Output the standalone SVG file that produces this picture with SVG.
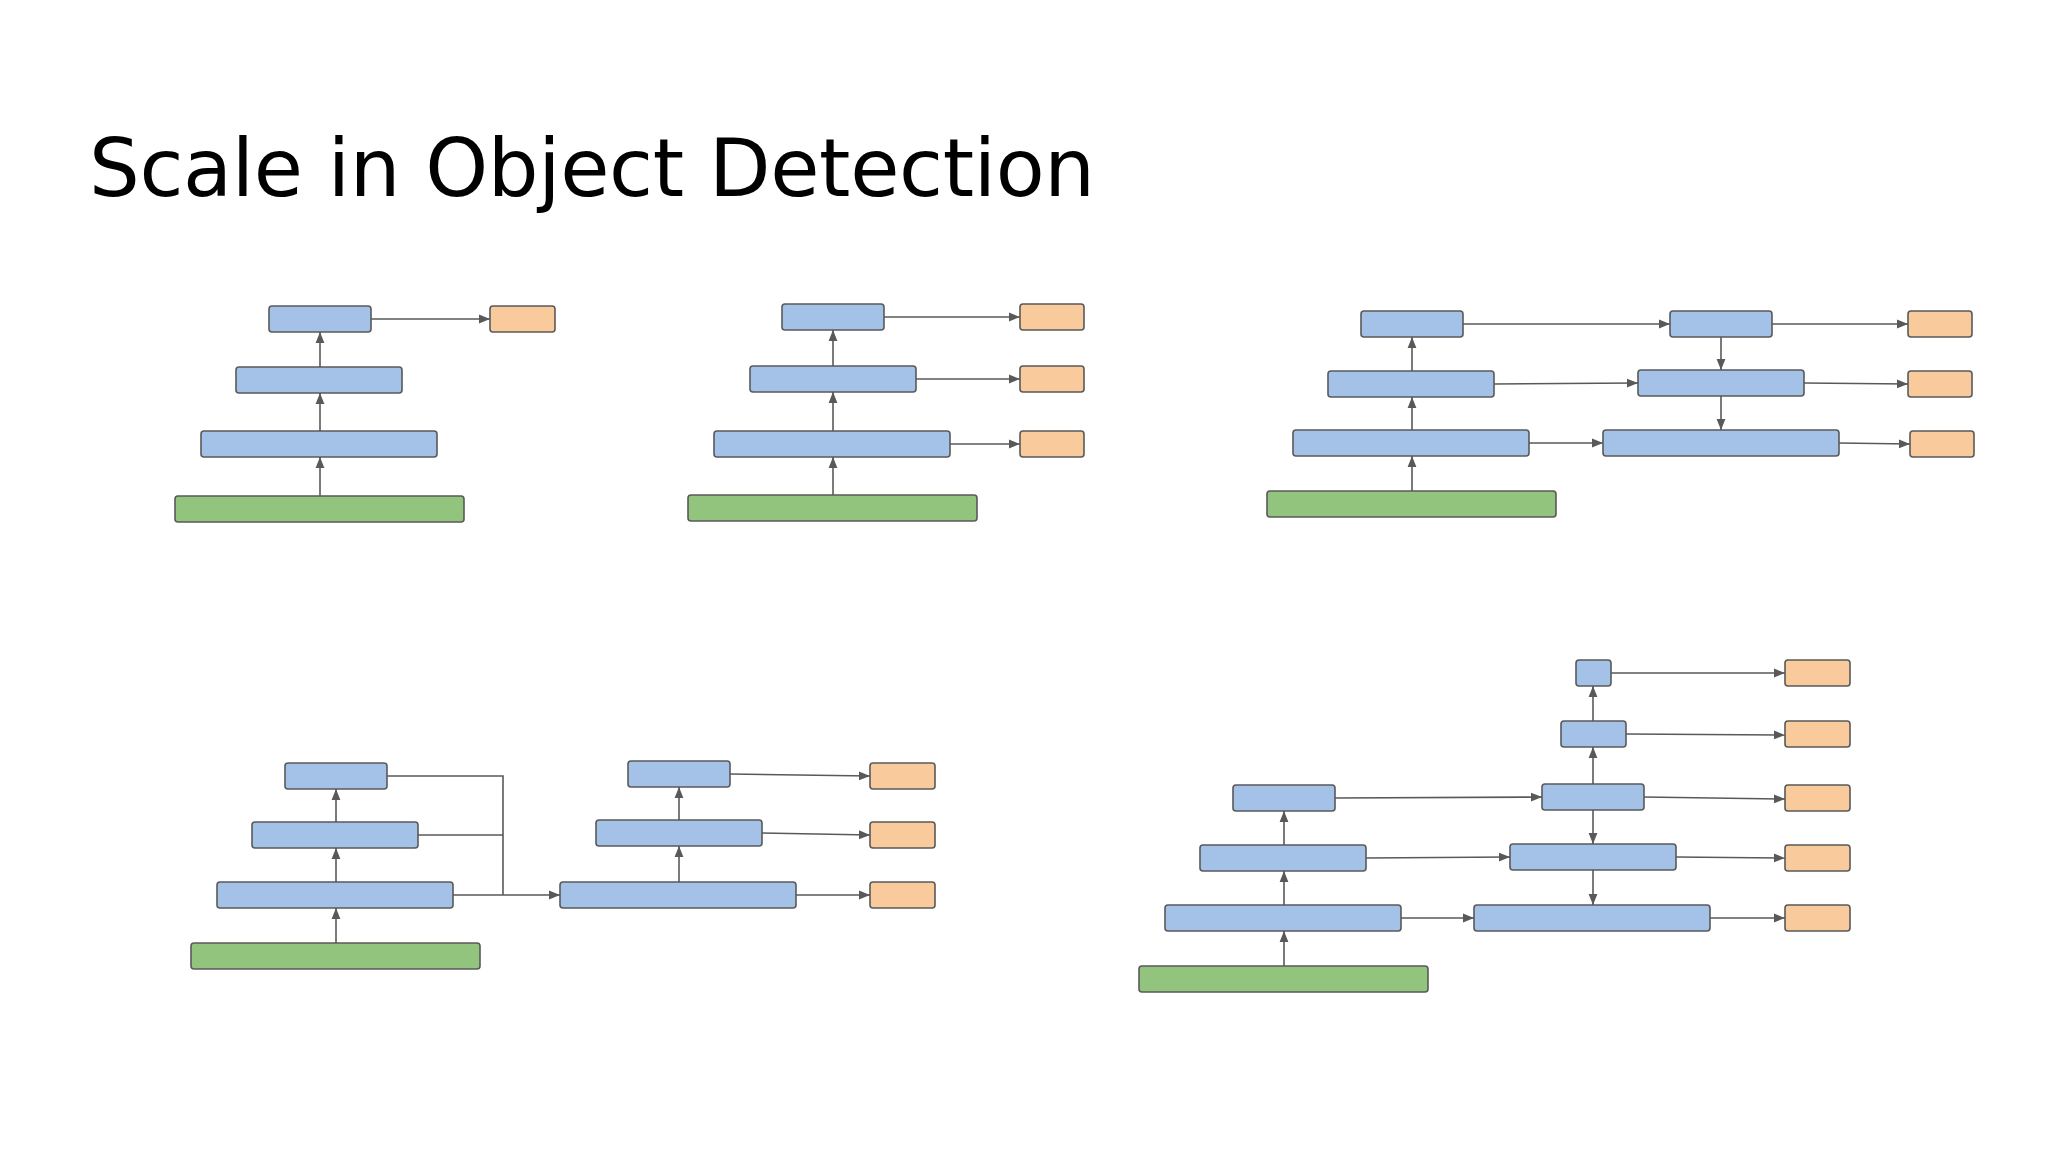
<svg xmlns="http://www.w3.org/2000/svg" width="2048" height="1152" viewBox="0 0 2048 1152">
<defs>
<marker id="a" viewBox="0 0 10 10" refX="10" refY="5" markerWidth="7" markerHeight="7" orient="auto"><path d="M0,1 L10,5 L0,9 z" fill="#595959"/></marker>
<style>
rect{stroke:#595959;stroke-width:1.6}
.b{fill:#a4c2e8}.o{fill:#f9cb9c}.g{fill:#93c47d}
#c line,#c path{stroke:#595959;stroke-width:1.6;fill:none}
#c .m{marker-end:url(#a)}
</style>
</defs>
<rect x="0" y="0" width="2048" height="1152" style="fill:#fff;stroke:none"/>
<text x="89" y="196" font-family="DejaVu Sans, sans-serif" font-size="80" textLength="1006" fill="#000">Scale in Object Detection</text>
<g id="d1">
<rect class="b" x="269" y="306" width="102" height="26" rx="3"/>
<rect class="o" x="490" y="306" width="65" height="26" rx="3"/>
<rect class="b" x="236" y="367" width="166" height="26" rx="3"/>
<rect class="b" x="201" y="431" width="236" height="26" rx="3"/>
<rect class="g" x="175" y="496" width="289" height="26" rx="3"/>
</g>
<g id="d2">
<rect class="b" x="782" y="304" width="102" height="26" rx="3"/>
<rect class="b" x="750" y="366" width="166" height="26" rx="3"/>
<rect class="b" x="714" y="431" width="236" height="26" rx="3"/>
<rect class="g" x="688" y="495" width="289" height="26" rx="3"/>
<rect class="o" x="1020" y="304" width="64" height="26" rx="3"/>
<rect class="o" x="1020" y="366" width="64" height="26" rx="3"/>
<rect class="o" x="1020" y="431" width="64" height="26" rx="3"/>
</g>
<g id="d3">
<rect class="b" x="1361" y="311" width="102" height="26" rx="3"/>
<rect class="b" x="1328" y="371" width="166" height="26" rx="3"/>
<rect class="b" x="1293" y="430" width="236" height="26" rx="3"/>
<rect class="g" x="1267" y="491" width="289" height="26" rx="3"/>
<rect class="b" x="1670" y="311" width="102" height="26" rx="3"/>
<rect class="b" x="1638" y="370" width="166" height="26" rx="3"/>
<rect class="b" x="1603" y="430" width="236" height="26" rx="3"/>
<rect class="o" x="1908" y="311" width="64" height="26" rx="3"/>
<rect class="o" x="1908" y="371" width="64" height="26" rx="3"/>
<rect class="o" x="1910" y="431" width="64" height="26" rx="3"/>
</g>
<g id="d4">
<rect class="b" x="285" y="763" width="102" height="26" rx="3"/>
<rect class="b" x="252" y="822" width="166" height="26" rx="3"/>
<rect class="b" x="217" y="882" width="236" height="26" rx="3"/>
<rect class="g" x="191" y="943" width="289" height="26" rx="3"/>
<rect class="b" x="628" y="761" width="102" height="26" rx="3"/>
<rect class="b" x="596" y="820" width="166" height="26" rx="3"/>
<rect class="b" x="560" y="882" width="236" height="26" rx="3"/>
<rect class="o" x="870" y="763" width="65" height="26" rx="3"/>
<rect class="o" x="870" y="822" width="65" height="26" rx="3"/>
<rect class="o" x="870" y="882" width="65" height="26" rx="3"/>
</g>
<g id="d5">
<rect class="b" x="1233" y="785" width="102" height="26" rx="3"/>
<rect class="b" x="1200" y="845" width="166" height="26" rx="3"/>
<rect class="b" x="1165" y="905" width="236" height="26" rx="3"/>
<rect class="g" x="1139" y="966" width="289" height="26" rx="3"/>
<rect class="b" x="1576" y="660" width="35" height="26" rx="3"/>
<rect class="b" x="1561" y="721" width="65" height="26" rx="3"/>
<rect class="b" x="1542" y="784" width="102" height="26" rx="3"/>
<rect class="b" x="1510" y="844" width="166" height="26" rx="3"/>
<rect class="b" x="1474" y="905" width="236" height="26" rx="3"/>
<rect class="o" x="1785" y="660" width="65" height="26" rx="3"/>
<rect class="o" x="1785" y="721" width="65" height="26" rx="3"/>
<rect class="o" x="1785" y="785" width="65" height="26" rx="3"/>
<rect class="o" x="1785" y="845" width="65" height="26" rx="3"/>
<rect class="o" x="1785" y="905" width="65" height="26" rx="3"/>
</g>
<g id="c">
<!-- d1 -->
<line class="m" x1="320" y1="496" x2="320" y2="457"/>
<line class="m" x1="320" y1="431" x2="320" y2="393"/>
<line class="m" x1="320" y1="367" x2="320" y2="332"/>
<line class="m" x1="371" y1="319" x2="490" y2="319"/>
<!-- d2 -->
<line class="m" x1="833" y1="495" x2="833" y2="457"/>
<line class="m" x1="833" y1="431" x2="833" y2="392"/>
<line class="m" x1="833" y1="366" x2="833" y2="330"/>
<line class="m" x1="884" y1="317" x2="1020" y2="317"/>
<line class="m" x1="916" y1="379" x2="1020" y2="379"/>
<line class="m" x1="950" y1="444" x2="1020" y2="444"/>
<!-- d3 -->
<line class="m" x1="1412" y1="491" x2="1412" y2="456"/>
<line class="m" x1="1412" y1="430" x2="1412" y2="397"/>
<line class="m" x1="1412" y1="371" x2="1412" y2="337"/>
<line class="m" x1="1463" y1="324" x2="1670" y2="324"/>
<line class="m" x1="1494" y1="384" x2="1638" y2="383"/>
<line class="m" x1="1529" y1="443" x2="1603" y2="443"/>
<line class="m" x1="1721" y1="337" x2="1721" y2="370"/>
<line class="m" x1="1721" y1="396" x2="1721" y2="430"/>
<line class="m" x1="1772" y1="324" x2="1908" y2="324"/>
<line class="m" x1="1804" y1="383" x2="1908" y2="384"/>
<line class="m" x1="1839" y1="443" x2="1910" y2="444"/>
<!-- d4 -->
<line class="m" x1="336" y1="943" x2="336" y2="908"/>
<line class="m" x1="336" y1="882" x2="336" y2="848"/>
<line class="m" x1="336" y1="822" x2="336" y2="789"/>
<path d="M387,776 H503 V895"/>
<line x1="418" y1="835" x2="503" y2="835"/>
<line class="m" x1="453" y1="895" x2="560" y2="895"/>
<line class="m" x1="679" y1="882" x2="679" y2="846"/>
<line class="m" x1="679" y1="820" x2="679" y2="787"/>
<line class="m" x1="730" y1="774" x2="870" y2="776"/>
<line class="m" x1="762" y1="833" x2="870" y2="835"/>
<line class="m" x1="796" y1="895" x2="870" y2="895"/>
<!-- d5 -->
<line class="m" x1="1284" y1="966" x2="1284" y2="931"/>
<line class="m" x1="1284" y1="905" x2="1284" y2="871"/>
<line class="m" x1="1284" y1="845" x2="1284" y2="811"/>
<line class="m" x1="1335" y1="798" x2="1542" y2="797"/>
<line class="m" x1="1366" y1="858" x2="1510" y2="857"/>
<line class="m" x1="1401" y1="918" x2="1474" y2="918"/>
<line class="m" x1="1593" y1="784" x2="1593" y2="747"/>
<line class="m" x1="1593" y1="721" x2="1593" y2="686"/>
<line class="m" x1="1593" y1="810" x2="1593" y2="844"/>
<line class="m" x1="1593" y1="870" x2="1593" y2="905"/>
<line class="m" x1="1611" y1="673" x2="1785" y2="673"/>
<line class="m" x1="1626" y1="734" x2="1785" y2="735"/>
<line class="m" x1="1644" y1="797" x2="1785" y2="799"/>
<line class="m" x1="1676" y1="857" x2="1785" y2="858"/>
<line class="m" x1="1710" y1="918" x2="1785" y2="918"/>
</g>
</svg>
